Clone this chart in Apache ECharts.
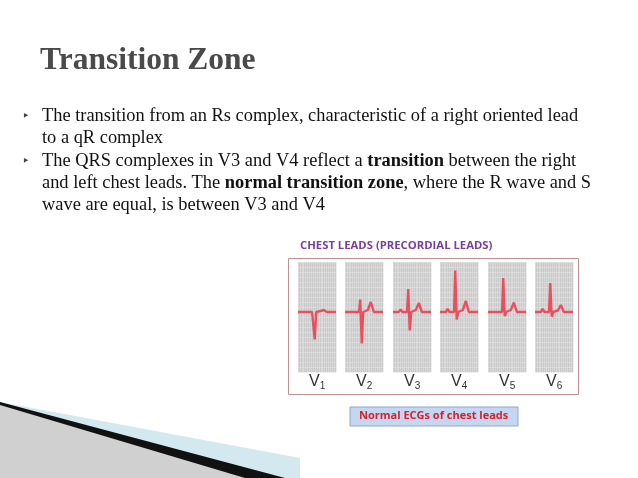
<!DOCTYPE html>
<html>
<head>
<meta charset="utf-8">
<title>Transition Zone</title>
<script src="https://cdn.jsdelivr.net/npm/echarts@6/dist/echarts.min.js"></script>
<style>html,body{margin:0;padding:0;background:#fff}#main{width:638px;height:478px}</style>
</head>
<body>
<div id="main"></div>
<script>
// lead names and the time points of one beat (0..1 across each strip)
var leads = ['V1', 'V2', 'V3', 'V4', 'V5', 'V6'];
var beatX = [0, 0.15, 0.2, 0.25, 0.37, 0.40, 0.44, 0.48, 0.6, 0.68, 0.76, 1];
// amplitudes (R up, S down, T wave)
var v1 = [0, 0, 0.03, 0, 0, 0.04, -0.55, 0, 0.02, 0.04, 0, 0];
var v2 = [0, 0, 0.04, 0, 0, 0.25, -0.63, 0, 0.04, 0.2, 0, 0];
var v3 = [0, 0, 0.05, 0, 0, 0.46, -0.37, 0, 0.04, 0.18, 0, 0];
var v4 = [0, 0, 0.06, 0, 0, 0.83, -0.15, 0, 0.04, 0.22, 0, 0];
var v5 = [0, 0, 0.04, 0, 0, 0.68, -0.08, 0, 0.04, 0.19, 0, 0];
var v6 = [0, 0, 0.06, 0, 0, 0.58, -0.09, 0, 0.03, 0.14, 0, 0];
var traces = [v1, v2, v3, v4, v5, v6];

var panelLeft = [298, 345, 393, 440, 488, 535];
var grids = [], xAxes = [], yAxes = [], series = [];
leads.forEach(function (name, i) {
    grids.push({ left: panelLeft[i], top: 262, width: 38, height: 110, show: true, backgroundColor: '#c9c9c9', borderWidth: 0 });
    xAxes.push({ gridIndex: i, type: 'value', min: 0, max: 1, interval: 0.05,
        axisLine: { show: false }, axisTick: { show: false }, axisLabel: { show: false },
        splitLine: { lineStyle: { color: '#e2e2e2', width: 0.6 } } });
    yAxes.push({ gridIndex: i, type: 'value', min: -1.2, max: 1.0, interval: 0.1,
        axisLine: { show: false }, axisTick: { show: false }, axisLabel: { show: false },
        splitLine: { lineStyle: { color: '#e2e2e2', width: 0.6 } } });
    series.push({ type: 'line', xAxisIndex: i, yAxisIndex: i, symbol: 'none', smooth: false,
        lineStyle: { color: '#e8505f', width: 2.4 },
        data: beatX.map(function (x, k) { return [x, traces[i][k]]; }) });
});

var labelGraphics = leads.map(function (name, i) {
    return { type: 'text', left: panelLeft[i] + 11, top: 374,
        style: { text: '{v|V}{s|' + name.slice(1) + '}', rich: {
            v: { fontFamily: 'Liberation Sans', fontSize: 16, fill: '#333' },
            s: { fontFamily: 'Liberation Sans', fontSize: 10, fill: '#333', padding: [9, 0, 0, 0] } } } };
});

var serif = 'Liberation Serif';
var body = { fontFamily: serif, fontSize: 18.4, fill: '#111' };
var bold = { fontFamily: serif, fontSize: 18.4, fill: '#111', fontWeight: 'bold' };
var tri = { fontFamily: 'DejaVu Sans', fontSize: 13, fill: '#444' };

var chart = echarts.init(document.getElementById('main'));
chart.setOption({
    animation: false,
    grid: grids,
    xAxis: xAxes,
    yAxis: yAxes,
    series: series,
    graphic: [
        // bottom-left swoosh
        { type: 'polygon', shape: { points: [[0, 402], [300, 458], [300, 478], [0, 478]] }, style: { fill: '#d4e8f0' } },
        { type: 'polygon', shape: { points: [[0, 402], [285, 478], [0, 478]] }, style: { fill: '#111' } },
        { type: 'polygon', shape: { points: [[0, 405], [245, 478], [0, 478]] }, style: { fill: '#d0d0d0' } },
        { type: 'text', left: 40, top: 45, style: { text: 'Transition Zone', fontFamily: serif, fontSize: 31.5, fontWeight: 'bold', fill: '#4a4a4a' } },
        { type: 'text', left: 22, top: 110, style: { text: '‣', ...tri } },
        { type: 'text', left: 22, top: 155, style: { text: '‣', ...tri } },
        { type: 'text', left: 42, top: 107, style: { text: 'The transition from an Rs complex, characteristic of a right oriented lead', ...body } },
        { type: 'text', left: 42, top: 129, style: { text: 'to a qR complex', ...body } },
        { type: 'text', left: 42, top: 152, style: { text: '{n|The QRS complexes in V3 and V4 reflect a }{b|transition}{n| between the right}', rich: { n: body, b: bold } } },
        { type: 'text', left: 42, top: 174, style: { text: '{n|and left chest leads. The }{b|normal transition zone}{n|, where the R wave and S}', rich: { n: body, b: bold } } },
        { type: 'text', left: 42, top: 196, style: { text: 'wave are equal, is between V3 and V4', ...body } },
        { type: 'text', left: 300, top: 240, style: { text: 'CHEST LEADS (PRECORDIAL LEADS)', fontFamily: 'Open Sans', fontSize: 11.3, fontWeight: 'bold', fill: '#7a3fa0' } },
        { type: 'rect', shape: { x: 288.5, y: 258.5, width: 290, height: 136 }, style: { fill: 'none', stroke: '#c09090', lineWidth: 1 } },
        { type: 'rect', shape: { x: 350, y: 407, width: 168, height: 19 }, style: { fill: '#c5d7f0', stroke: '#8fa8d0', lineWidth: 1 } },
        { type: 'text', left: 359, top: 410, style: { text: 'Normal ECGs of chest leads', fontFamily: 'Open Sans', fontSize: 11, fontWeight: 'bold', fill: '#d8202f' } }
    ].concat(labelGraphics)
});
</script>
</body>
</html>
